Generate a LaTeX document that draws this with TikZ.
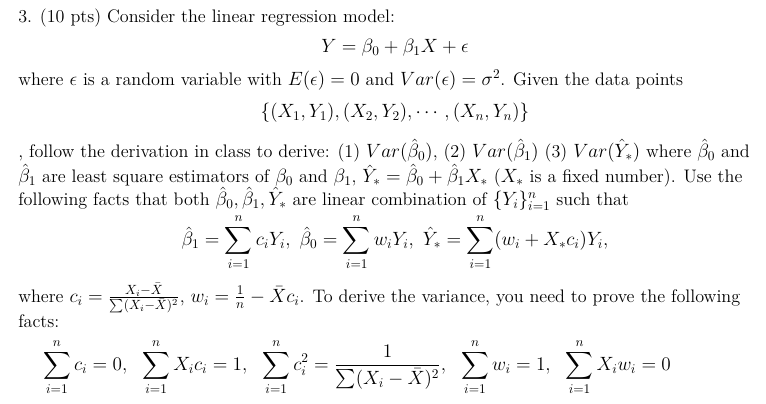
\documentclass[tikz,border=0pt]{standalone}
\usepackage{amsmath}
\begin{document}
\begin{tikzpicture}[x=0.75pt,y=-0.75pt,
  txt/.style={anchor=west,inner sep=0pt,font=\fontsize{13.6}{16}\selectfont},
  ctr/.style={anchor=center,inner sep=0pt,font=\fontsize{13.6}{16}\selectfont}]
\useasboundingbox (0,0) rectangle (766,403);
\node[txt] (l1) at (18,18) {3. (10 pts) Consider the linear regression model:};
\node[ctr] (e1) at (395,48) {$Y=\beta_0+\beta_1X+\epsilon$};
\node[txt] (l2) at (18,80) {where $\epsilon$ is a random variable with $E(\epsilon)=0$ and $Var(\epsilon)=\sigma^2$. Given the data points};
\node[ctr] (e2) at (395,113) {$\{(X_1,Y_1),(X_2,Y_2),\cdots,(X_n,Y_n)\}$};
\node[txt] (l3) at (18,151) {, follow the derivation in class to derive: (1) $Var(\hat\beta_0)$, (2) $Var(\hat\beta_1)$ (3) $Var(\hat Y_*)$ where $\hat\beta_0$ and};
\node[txt] (l4) at (18,176) {$\hat\beta_1$ are least square estimators of $\beta_0$ and $\beta_1$, $\hat Y_*=\hat\beta_0+\hat\beta_1X_*$ ($X_*$ is a fixed number). Use the};
\node[txt] (l5) at (18,199) {following facts that both $\hat\beta_0,\hat\beta_1,\hat Y_*$ are linear combination of $\{Y_i\}_{i=1}^n$ such that};
\node[ctr] (e3) at (395,242) {$\displaystyle \hat\beta_1=\sum_{i=1}^n c_iY_i,\ \hat\beta_0=\sum_{i=1}^n w_iY_i,\ \hat Y_*=\sum_{i=1}^n(w_i+X_*c_i)Y_i,$};
\node[txt] (l6) at (18,298) {where $c_i=\frac{X_i-\bar X}{\sum(X_i-\bar X)^2}$, $w_i=\frac1n-\bar Xc_i$. To derive the variance, you need to prove the following};
\node[txt] (l7) at (18,321) {facts:};
\node[ctr] (e4) at (357,367) {$\displaystyle \sum_{i=1}^n c_i=0,\ \ \sum_{i=1}^n X_ic_i=1,\ \ \sum_{i=1}^n c_i^2=\frac{1}{\sum(X_i-\bar X)^2},\ \ \sum_{i=1}^n w_i=1,\ \ \sum_{i=1}^n X_iw_i=0$};
\end{tikzpicture}
\end{document}
